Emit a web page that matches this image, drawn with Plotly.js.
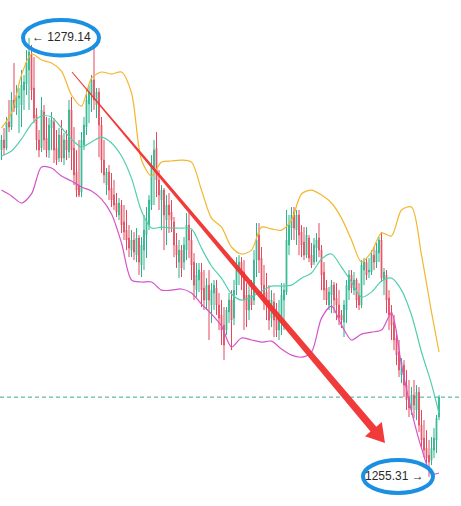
<!DOCTYPE html>
<html><head><meta charset="utf-8">
<script src="https://cdn.plot.ly/plotly-3.0.1.min.js"></script>
<style>html,body{margin:0;padding:0;background:#fff;}#chart{width:461px;height:506px;}</style>
</head><body><div id="chart"></div>
<script>
const open = [1273.05,1273.60,1273.16,1274.58,1274.30,1275.77,1275.34,1275.88,1275.50,1276.31,1276.64,1277.40,1278.21,1276.42,1274.96,1273.60,1273.16,1275.12,1273.71,1273.05,1274.25,1274.58,1273.16,1272.62,1273.87,1272.62,1273.60,1272.95,1275.23,1273.16,1271.86,1271.15,1270.77,1273.33,1274.30,1275.55,1276.04,1276.86,1275.50,1276.20,1274.41,1272.51,1271.15,1271.86,1270.99,1270.61,1270.18,1269.53,1270.07,1269.15,1268.71,1268.28,1267.62,1268.17,1267.35,1268.28,1266.81,1267.62,1268.44,1268.98,1270.07,1271.97,1273.16,1271.43,1270.34,1270.88,1269.25,1270.07,1269.69,1269.15,1267.90,1266.97,1267.62,1266.97,1267.62,1268.98,1268.17,1266.97,1265.45,1266.00,1266.43,1265.56,1264.91,1265.72,1264.64,1265.29,1265.56,1264.64,1264.10,1263.55,1263.28,1264.26,1264.91,1263.93,1265.72,1266.54,1266.97,1266.43,1265.18,1264.37,1265.18,1264.91,1267.08,1268.44,1267.19,1265.72,1265.34,1264.91,1263.93,1264.80,1263.93,1263.28,1263.93,1264.91,1265.34,1267.90,1268.82,1269.69,1268.71,1269.53,1268.60,1268.06,1267.35,1268.28,1267.35,1266.97,1267.73,1268.28,1267.62,1266.43,1265.56,1264.64,1265.18,1265.72,1265.02,1264.64,1264.10,1263.72,1264.37,1265.45,1266.27,1265.45,1266.00,1265.18,1264.64,1266.54,1266.97,1266.43,1266.43,1267.35,1266.97,1267.46,1268.17,1266.00,1266.27,1265.02,1264.26,1263.72,1262.85,1262.09,1260.84,1261.38,1260.29,1259.59,1258.94,1259.75,1258.94,1259.91,1258.12,1257.42,1256.87,1256.49,1256.22,1256.76,1257.31,1258.56];
const high = [1273.87,1274.25,1274.85,1275.77,1276.20,1277.78,1276.58,1276.42,1277.40,1277.13,1278.48,1279.14,1278.76,1278.10,1275.34,1274.14,1275.93,1275.50,1274.85,1274.79,1275.12,1274.79,1274.14,1274.25,1274.68,1273.98,1274.14,1275.77,1275.93,1274.30,1273.05,1273.60,1274.03,1274.85,1276.31,1276.58,1277.13,1278.65,1276.42,1276.42,1274.85,1273.60,1272.08,1272.24,1271.81,1271.43,1270.72,1270.45,1270.34,1270.07,1269.80,1268.98,1268.71,1268.60,1268.82,1268.44,1268.33,1269.53,1269.96,1270.61,1272.78,1273.60,1274.03,1271.97,1271.15,1270.99,1270.61,1270.72,1270.34,1269.42,1268.55,1268.17,1267.90,1268.33,1269.63,1269.63,1268.71,1267.46,1266.92,1266.92,1266.92,1266.54,1266.10,1266.54,1265.83,1266.00,1266.00,1265.29,1264.91,1264.53,1264.53,1265.29,1265.45,1266.00,1267.24,1267.35,1267.24,1267.08,1265.83,1265.72,1266.00,1267.62,1269.09,1269.09,1267.79,1266.81,1266.38,1265.72,1265.45,1265.29,1264.75,1264.91,1265.83,1265.83,1269.80,1269.53,1269.96,1269.96,1269.80,1269.80,1268.98,1268.87,1268.87,1268.44,1268.01,1268.28,1268.55,1269.09,1267.90,1266.97,1266.00,1265.62,1266.00,1265.89,1265.83,1265.45,1264.37,1264.91,1266.00,1266.54,1266.54,1266.43,1266.10,1265.83,1267.08,1267.19,1267.19,1267.19,1267.62,1267.79,1268.01,1268.33,1268.60,1266.65,1266.54,1265.45,1264.64,1264.10,1263.28,1262.74,1261.76,1261.65,1261.11,1260.57,1260.19,1260.57,1260.29,1260.19,1258.94,1258.39,1257.85,1257.31,1257.47,1257.96,1258.67,1259.75];
const low = [1272.51,1272.78,1273.05,1274.03,1274.14,1275.12,1274.96,1273.98,1274.30,1275.23,1276.04,1275.23,1275.77,1274.52,1273.05,1272.67,1272.95,1273.05,1272.67,1272.62,1273.05,1272.35,1272.24,1272.40,1272.40,1272.24,1272.51,1272.62,1271.97,1271.15,1270.50,1270.50,1270.50,1273.05,1273.87,1274.52,1275.12,1275.23,1274.79,1272.67,1271.81,1271.26,1270.61,1270.34,1269.96,1269.80,1269.42,1269.25,1268.55,1268.17,1267.62,1267.24,1267.24,1267.08,1266.97,1266.27,1266.16,1266.54,1267.19,1268.71,1269.80,1270.07,1270.50,1269.80,1268.71,1267.62,1267.90,1268.55,1268.60,1267.24,1266.65,1266.10,1266.16,1266.54,1267.08,1267.19,1266.00,1264.91,1265.07,1265.34,1264.53,1264.37,1264.37,1262.74,1263.66,1264.37,1264.10,1263.28,1262.47,1261.65,1263.01,1263.66,1262.19,1263.55,1265.18,1265.72,1265.45,1263.28,1263.44,1263.82,1264.37,1264.64,1266.16,1266.38,1264.91,1264.37,1263.82,1263.28,1263.44,1262.90,1262.90,1262.74,1263.01,1263.28,1265.18,1267.35,1268.17,1268.17,1267.90,1267.35,1267.24,1267.08,1267.19,1266.97,1266.65,1266.81,1266.97,1267.24,1265.45,1264.91,1264.64,1264.37,1264.20,1264.20,1263.82,1263.55,1263.39,1262.90,1263.66,1264.91,1265.29,1265.18,1264.48,1264.37,1264.48,1265.72,1266.00,1266.10,1266.27,1266.54,1266.65,1266.97,1265.89,1265.18,1264.20,1263.28,1262.74,1262.19,1261.38,1260.73,1260.40,1259.64,1258.94,1258.56,1258.67,1258.50,1258.39,1257.74,1256.93,1256.38,1256.06,1255.31,1255.95,1256.33,1256.60,1258.39];
const close = [1273.60,1273.16,1274.58,1274.30,1275.77,1275.34,1276.04,1275.99,1276.58,1276.75,1277.83,1278.38,1276.31,1274.79,1273.60,1273.05,1275.23,1273.60,1273.05,1274.41,1274.68,1273.05,1272.51,1273.87,1272.62,1273.60,1273.05,1275.23,1273.05,1271.70,1270.88,1270.61,1273.60,1274.41,1275.77,1276.20,1276.86,1275.77,1276.20,1274.41,1272.51,1271.70,1271.86,1270.88,1270.34,1270.07,1269.69,1270.18,1268.98,1268.60,1268.17,1267.73,1268.17,1267.52,1268.28,1266.97,1267.90,1268.71,1269.25,1270.34,1272.24,1273.05,1271.43,1270.61,1270.88,1269.53,1270.07,1269.53,1269.25,1267.90,1267.35,1267.62,1266.65,1267.90,1268.98,1268.17,1266.81,1265.72,1266.27,1266.54,1265.45,1264.91,1265.72,1264.91,1265.45,1265.72,1264.64,1263.93,1263.28,1262.47,1264.37,1264.91,1263.82,1265.45,1266.65,1266.97,1266.27,1264.91,1264.37,1265.18,1264.64,1267.08,1268.17,1267.08,1265.72,1264.91,1264.64,1263.82,1264.91,1263.82,1263.28,1264.10,1265.18,1265.45,1268.17,1268.98,1269.53,1268.82,1269.53,1268.44,1267.90,1267.35,1268.44,1267.19,1266.81,1267.90,1268.17,1267.62,1266.27,1265.45,1264.91,1265.34,1265.72,1264.91,1264.64,1263.93,1263.82,1264.64,1265.72,1266.27,1265.56,1266.00,1264.91,1264.64,1266.81,1266.97,1266.27,1266.54,1267.35,1266.97,1267.62,1268.17,1266.10,1266.43,1264.91,1264.10,1263.55,1262.74,1261.92,1261.11,1261.54,1260.29,1259.48,1259.05,1259.75,1259.21,1259.91,1258.12,1257.31,1256.76,1256.33,1256.11,1256.87,1257.42,1258.50,1259.64];

// Bollinger band readings, at every 4th bar plus the last bar
const bandIdx = [0,4,8,12,16,20,24,28,32,36,40,44,48,52,56,60,64,68,72,76,80,84,88,92,96,100,104,108,112,116,120,124,128,132,136,140,144,148,152,156,160,164,168,172,175];
const upperBand = [1274.25,1275.06,1277.13,1278.27,1277.94,1277.78,1277.34,1276.04,1275.44,1276.96,1277.29,1277.18,1277.29,1276.15,1272.51,1271.64,1272.40,1272.46,1272.51,1272.40,1270.88,1269.36,1268.87,1267.79,1267.41,1267.62,1268.87,1268.77,1268.71,1269.25,1270.67,1270.88,1270.61,1270.18,1269.36,1268.17,1266.97,1267.52,1268.55,1268.39,1269.80,1269.96,1267.35,1264.26,1262.09];
const middleBand = [1272.73,1273.00,1273.65,1274.47,1274.90,1274.85,1274.25,1273.65,1273.22,1273.49,1273.76,1273.44,1272.73,1271.53,1269.74,1268.82,1268.87,1268.82,1268.82,1268.77,1267.73,1266.76,1266.10,1265.24,1264.91,1265.07,1265.40,1265.67,1265.67,1265.72,1266.10,1266.38,1267.14,1267.41,1266.70,1265.89,1265.07,1265.34,1265.94,1266.10,1265.45,1264.10,1262.09,1260.35,1258.77];
const lowerBand = [1270.88,1270.56,1270.18,1270.67,1272.13,1272.08,1271.64,1271.37,1271.05,1270.83,1270.39,1269.58,1268.01,1266.00,1265.89,1265.89,1265.45,1265.45,1265.51,1265.29,1264.69,1264.15,1263.50,1262.36,1262.85,1262.74,1262.63,1262.68,1262.25,1261.92,1261.81,1262.09,1263.93,1264.58,1263.55,1262.74,1263.06,1263.17,1263.28,1264.20,1261.38,1258.88,1256.87,1255.46,1255.52];

const highLabel = "\u2190 1279.14";
const lowLabel = "1255.31 \u2192";
const lastPrice = 1259.64;

const W = 461, H = 506;
function pp(x, y) { return (x / W).toFixed(4) + ',' + (1 - y / H).toFixed(4); }
// tapered red arrow (decoration) in pixel space
const arrowPts = [[72.4,71.7],[376.3,426.8],[381.8,422.1],[385,443],[365.0,436.3],[370.5,431.6],[71.6,72.3]];
const arrowPath = 'M' + arrowPts.map(p => pp(p[0], p[1])).join(' L') + ' Z';

const traces = [
  { type: 'candlestick', open: open, high: high, low: low, close: close,
    increasing: { line: { color: '#27b48c', width: 1 }, fillcolor: '#9fdfca' },
    decreasing: { line: { color: '#e5485c', width: 1 }, fillcolor: '#f4a8b1' },
    whiskerwidth: 0, hoverinfo: 'none', showlegend: false },
  { type: 'scatter', mode: 'lines', x: bandIdx, y: upperBand,
    line: { color: '#f4b62f', width: 1.2, shape: 'spline', smoothing: 0.8 }, hoverinfo: 'none', showlegend: false },
  { type: 'scatter', mode: 'lines', x: bandIdx, y: middleBand,
    line: { color: '#52cfae', width: 1.2, shape: 'spline', smoothing: 0.8 }, hoverinfo: 'none', showlegend: false },
  { type: 'scatter', mode: 'lines', x: bandIdx, y: lowerBand,
    line: { color: '#d455c9', width: 1.2, shape: 'spline', smoothing: 0.8 }, hoverinfo: 'none', showlegend: false }
];

const layout = {
  width: W, height: H,
  margin: { l: 0, r: 0, t: 0, b: 0, pad: 0 },
  paper_bgcolor: '#ffffff', plot_bgcolor: '#ffffff',
  showlegend: false,
  boxgap: 0.6,
  xaxis: { range: [-0.6, 183.8], visible: false, rangeslider: { visible: false }, fixedrange: true },
  yaxis: { range: [1253.73, 1281.20], visible: false, fixedrange: true },
  shapes: [
    { type: 'line', xref: 'paper', x0: 0, x1: 1, yref: 'y', y0: lastPrice, y1: lastPrice,
      line: { color: '#3aa993', width: 1, dash: '4px,3px' }, layer: 'below' },
    { type: 'path', xref: 'paper', yref: 'paper', path: arrowPath,
      fillcolor: 'rgba(240,48,48,0.95)', line: { width: 0 } },
    { type: 'circle', xref: 'paper', yref: 'paper',
      x0: 23 / W, x1: 99 / W, y0: 1 - 55.5 / H, y1: 1 - 20 / H,
      line: { color: '#1b8fe2', width: 4 } },
    { type: 'circle', xref: 'paper', yref: 'paper',
      x0: 363 / W, x1: 433 / W, y0: 1 - 493 / H, y1: 1 - 460 / H,
      line: { color: '#1b8fe2', width: 4 } }
  ],
  annotations: [
    { xref: 'paper', yref: 'paper', x: 30 / W, y: 1 - 37 / H, xanchor: 'left', yanchor: 'middle',
      text: highLabel, showarrow: false, font: { family: 'Liberation Sans, Arial, sans-serif', size: 12, color: '#2a2a2a' } },
    { xref: 'paper', yref: 'paper', x: 426 / W, y: 1 - 476 / H, xanchor: 'right', yanchor: 'middle',
      text: lowLabel, showarrow: false, font: { family: 'Liberation Sans, Arial, sans-serif', size: 12, color: '#2a2a2a' } }
  ]
};

Plotly.newPlot('chart', traces, layout, { staticPlot: true, displayModeBar: false });
</script>
</body></html>
